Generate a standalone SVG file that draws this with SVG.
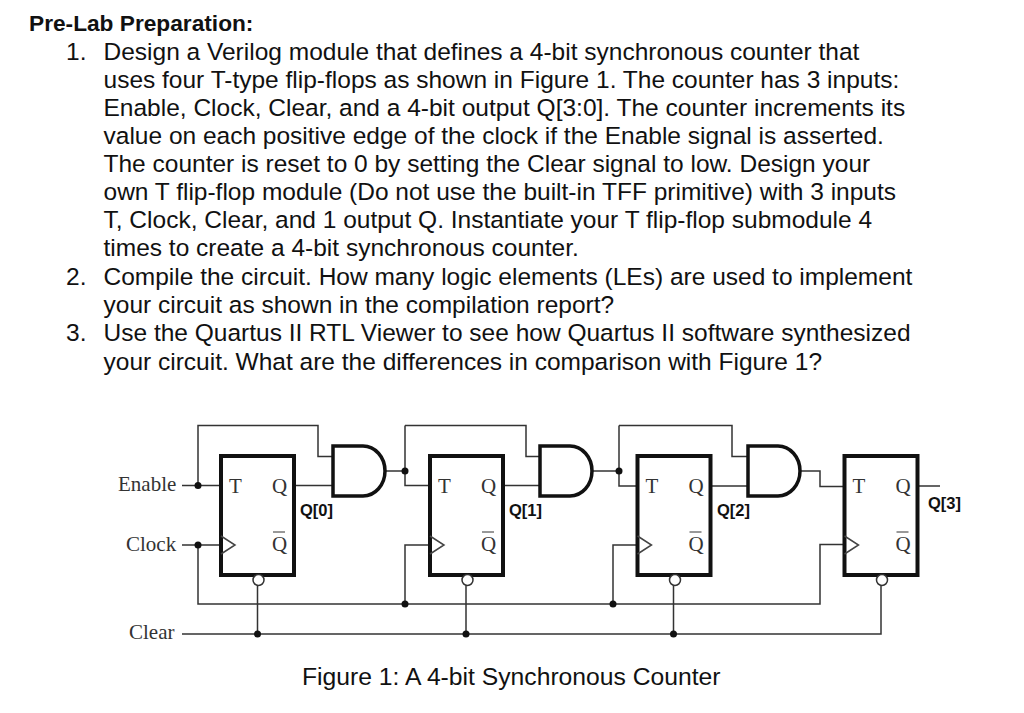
<svg xmlns="http://www.w3.org/2000/svg" width="1024" height="713" viewBox="0 0 1024 713">
<style>
text{fill:#111}
.b{font:24.5px "Liberation Sans",Arial,sans-serif}
.f{font:24.7px "Liberation Sans",Arial,sans-serif}
.h{font:bold 22.7px "Liberation Sans",Arial,sans-serif}
.s{font:21px "Liberation Serif","Times New Roman",serif;fill:#333}
.p{font:bold 16.500px "Liberation Sans",Arial,sans-serif}
.w{fill:none;stroke:#333;stroke-width:1.5}
.ff{fill:#fff;stroke:#111;stroke-width:4}
.g{fill:#fff;stroke:#111;stroke-width:3.5}
.bu{fill:#fff;stroke:#333;stroke-width:1.5}
.c{fill:none;stroke:#444;stroke-width:1.5}
.o{fill:none;stroke:#333;stroke-width:1}
circle.d{fill:#111}
</style>
<rect width="1024" height="713" fill="#fff"/>
<g id="text">
<text class="h" x="29" y="31">Pre-Lab Preparation:</text>
<text class="b" x="66" y="60">1.</text><text class="b" x="103.500" y="60">Design a Verilog module that defines a 4-bit synchronous counter that</text>
<text class="b" x="103.500" y="88">uses four T-type flip-flops as shown in Figure 1. The counter has 3 inputs:</text>
<text class="b" x="103.500" y="116">Enable, Clock, Clear, and a 4-bit output Q[3:0]. The counter increments its</text>
<text class="b" x="103.500" y="144">value on each positive edge of the clock if the Enable signal is asserted.</text>
<text class="b" x="103.500" y="172">The counter is reset to 0 by setting the Clear signal to low. Design your</text>
<text class="b" x="103.500" y="200">own T flip-flop module (Do not use the built-in TFF primitive) with 3 inputs</text>
<text class="b" x="103.500" y="228">T, Clock, Clear, and 1 output Q. Instantiate your T flip-flop submodule 4</text>
<text class="b" x="103.500" y="256">times to create a 4-bit synchronous counter.</text>
<text class="b" x="66" y="285">2.</text><text class="b" x="103.500" y="285">Compile the circuit. How many logic elements (LEs) are used to implement</text>
<text class="b" x="103.500" y="313">your circuit as shown in the compilation report?</text>
<text class="b" x="66" y="341">3.</text><text class="b" x="103.500" y="341">Use the Quartus II RTL Viewer to see how Quartus II software synthesized</text>
<text class="b" x="103.500" y="370">your circuit. What are the differences in comparison with Figure 1?</text>
<text class="f" x="302" y="685">Figure 1: A 4-bit Synchronous Counter</text>
<text class="s" x="118" y="491">Enable</text>
<text class="s" x="126" y="551">Clock</text>
<text class="s" x="129" y="639">Clear</text>
</g>
<g id="connectors">
<path class="w" d="M182 485.500H220M198 485.500V425.500H318V456.500H332M295 485.500H332M385 471H405M405 425.500V485.500H429M405 425.500H526V456.500H539M504 485.500H539M593 471H619M619 425.500V486H636M619 425.500H732V456.500H748M712 486H748M799 471H820V486.500H843M918 486H940"/>
<path class="w" d="M182 545H220M198 545V604H820V544.500H843M405 604V545H429M613 604V545H636"/>
<path class="w" d="M182 634H881V585M257.500 634V585M466 634V585M673.500 634V585"/>
<circle class="d" cx="198" cy="485.500" r="3.500"/><circle class="d" cx="198" cy="545" r="3.500"/>
<circle class="d" cx="405" cy="471" r="3.500"/><circle class="d" cx="619" cy="471" r="3.500"/>
<circle class="d" cx="405" cy="604" r="3.500"/><circle class="d" cx="613" cy="604" r="3.500"/>
<circle class="d" cx="257.500" cy="634" r="3.500"/><circle class="d" cx="466" cy="634" r="3.500"/><circle class="d" cx="673.500" cy="634" r="3.500"/>
</g>
<defs>
<g id="ffbody">
<rect class="ff" x="0" y="0" width="73" height="119"/>
<path class="c" d="M0 80 L14 89 L0 98"/>
<text class="s" x="8" y="37">T</text>
<text class="s" x="51" y="37">Q</text>
<text class="s" x="51" y="95">Q</text>
<path class="o" d="M52 76H64"/>
<circle class="bu" cx="37.500" cy="124" r="5.500"/>
</g>
<path id="andg" class="g" d="M0 0H30C42 0 52 11 52 25S42 50 30 50H0Z"/>
</defs>
<g id="ff0"><use href="#ffbody" x="221" y="456"/><text class="p" x="300" y="515.500">Q[0]</text></g>
<g id="ff1"><use href="#ffbody" x="430" y="456"/><text class="p" x="509" y="515.500">Q[1]</text></g>
<g id="ff2"><use href="#ffbody" x="637.500" y="456"/><text class="p" x="717" y="515.500">Q[2]</text></g>
<g id="ff3"><use href="#ffbody" x="844.500" y="456"/><text class="p" x="928" y="508.500">Q[3]</text></g>
<g id="and0"><use href="#andg" x="333" y="446"/></g>
<g id="and1"><use href="#andg" x="540" y="446"/></g>
<g id="and2"><use href="#andg" x="748" y="446"/></g>
</svg>
